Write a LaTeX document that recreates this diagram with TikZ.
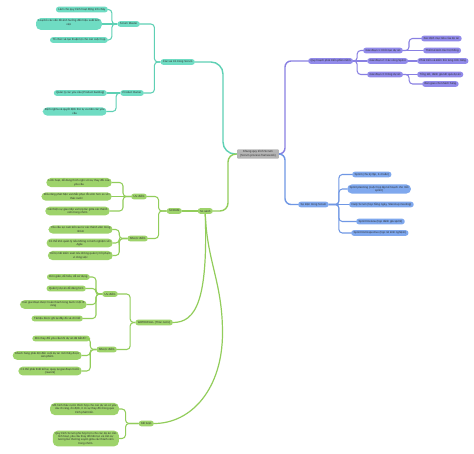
\documentclass[tikz,border=0pt]{standalone}
\usepackage{fontspec}
\setmainfont{Liberation Sans}
\usetikzlibrary{calc}
\definecolor{tealN}{HTML}{6FDCC3}
\definecolor{tealL}{HTML}{5ED0B4}
\definecolor{purN}{HTML}{918AEA}
\definecolor{purL}{HTML}{8980E2}
\definecolor{bluN}{HTML}{7FA8EE}
\definecolor{bluL}{HTML}{6F97E4}
\definecolor{grnN}{HTML}{9ED36B}
\definecolor{grnL}{HTML}{92CD5B}
\definecolor{txt}{HTML}{2E2E2E}
\definecolor{ctrN}{HTML}{B4B4B4}
\tikzset{
  mm/.style={draw=none, rounded corners=2.6pt, inner xsep=2.4pt, inner ysep=0.9pt,
    minimum height=5.6pt, font=\fontsize{2.8}{3.4}\selectfont, text=txt, align=center},
  ml/.style={rounded corners=4.5pt, inner ysep=1.3pt},
  tn/.style={mm, fill=tealN}, pn/.style={mm, fill=purN},
  bn/.style={mm, fill=bluN}, gn/.style={mm, fill=grnN},
  lnk/.style={line width=1.05pt, rounded corners=3.5pt},
  mainlnk/.style={line width=1.4pt},
}
\begin{document}
\begin{tikzpicture}[x=1pt,y=-1pt]
\fill[white] (0,0) rectangle (474,454);
\useasboundingbox (0,0) rectangle (474,454);

% centre
\node[mm, fill=ctrN, rounded corners=0.8pt, inner xsep=3pt, inner ysep=1.4pt,
  font=\fontsize{2.9}{3.6}\selectfont] (ctr) at (258,154)
  {Khung quy trình Scrum\\(Scrum process framework)};

% ---------- teal ----------
\node[tn, anchor=east] (cac) at (195,62) {Các vai trò trong Scrum};
\node[tn, anchor=east] (sm) at (140,24) {Scrum Master};
\node[tn, anchor=east] (po) at (144,93) {Product Owner};
\node[tn, anchor=east] (sm1) at (108,9.5) {Làm cho quy trình hoạt động trôi chảy};
\node[tn, ml, anchor=east] (sm2) at (102,24) {Loại bỏ các vấn đề ảnh hưởng đến hiệu suất làm\\việc\\};
\node[tn, anchor=east] (sm3) at (108,40) {Tổ chức và tạo thuận lợi cho các cuộc họp};
\node[tn, anchor=east] (po1) at (107,93) {Quản lý các yêu cầu (Product backlog)};
\node[tn, ml, anchor=east] (po2) at (107,111.5) {Định nghĩa và quyết định thứ tự ưu tiên các yêu\\cầu};

% ---------- purple ----------
\node[pn, anchor=west] (qh) at (308,61) {Quy hoạch phát triển phần mềm};
\node[pn, anchor=west] (g1) at (363,50.5) {Giai đoạn 1: Khởi tạo dự án};
\node[pn, anchor=west] (g2) at (367,61) {Giai đoạn 2: Các vòng Sprint};
\node[pn, anchor=west] (g3) at (367,74.5) {Giai đoạn 3: Đóng dự án};
\node[pn, anchor=west] (x1) at (421,38.5) {Xác định mục tiêu của dự án};
\node[pn, anchor=west] (x2) at (423,50.5) {Thiết kế kiến trúc hệ thống};
\node[pn, anchor=west] (p1) at (417,61) {Phát triển và kiểm thử từng tính năng};
\node[pn, anchor=west] (t1) at (417,74.5) {Tổng kết, đánh giá kết quả dự án};
\node[pn, anchor=west] (t2) at (422,84) {Bàn giao cho khách hàng};

% ---------- blue ----------
\node[bn, anchor=west] (sk) at (298,204.5) {Sự kiện trong Scrum};
\node[bn, anchor=west] (e1) at (352,174.5) {Sprint (chu kỳ lặp, 2-4 tuần)};
\node[bn, ml, anchor=west] (e2) at (347,189) {Sprint planning (cuộc họp lập kế hoạch cho mỗi\\sprint)};
\node[bn, anchor=west] (e3) at (349,204.5) {Daily Scrum (họp hằng ngày, Stand-up meeting)};
\node[bn, anchor=west] (e4) at (356,221.5) {Sprint Review (họp đánh giá sprint)};
\node[bn, anchor=west] (e5) at (351,233) {Sprint Retrospective (họp rút kinh nghiệm)};

% ---------- green ----------
\node[gn, anchor=east] (ss) at (213,211) {So sánh};
\node[gn, anchor=east] (scrum) at (182,211) {SCRUM};
\node[gn, anchor=east] (su) at (147,196.5) {Ưu điểm};
\node[gn, anchor=east] (sn) at (148,238.5) {Nhược điểm};
\node[gn, ml, anchor=east] (su1) at (112,182.5) {Linh hoạt, dễ dàng thích nghi với sự thay đổi của\\yêu cầu};
\node[gn, ml, anchor=east] (su2) at (112,196.5) {Khả năng phát hiện và khắc phục lỗi sớm hơn so với\\thác nước};
\node[gn, ml, anchor=east] (su3) at (110,211) {Cải thiện sự giao tiếp và hợp tác giữa các thành\\viên trong nhóm};
\node[gn, ml, anchor=east] (sn1) at (113,229.5) {Yêu cầu sự cam kết cao từ các thành viên trong\\nhóm};
\node[gn, ml, anchor=east] (sn2) at (113,243) {Có thể khó quản lý nếu không có kinh nghiệm với\\Agile};
\node[gn, ml, anchor=east] (sn3) at (113,255.5) {Dễ bị mất kiểm soát nếu không quản lý tốt phạm\\vi công việc};

\node[gn, anchor=east] (wf) at (173,322.5) {WATERFALL (Thác nước)};
\node[gn, anchor=east] (wu) at (118,294) {Ưu điểm};
\node[gn, anchor=east] (wn) at (117,349.5) {Nhược điểm};
\node[gn, anchor=east] (wu1) at (90,277) {Đơn giản, dễ hiểu, dễ sử dụng};
\node[gn, anchor=east] (wu2) at (86,288.5) {Quản lý dự án dễ dàng hơn};
\node[gn, ml, anchor=east] (wu3) at (87,304.5) {Các giai đoạn được hoàn thành từng bước một rõ\\ràng};
\node[gn, anchor=east] (wu4) at (83,318.5) {Tài liệu được ghi lại đầy đủ và chi tiết};
\node[gn, anchor=east] (wn1) at (90,338.5) {Khó thay đổi yêu cầu khi dự án đã bắt đầu};
\node[gn, ml, anchor=east] (wn2) at (82,355.5) {Khách hàng phải đợi đến cuối dự án mới thấy được\\sản phẩm};
\node[gn, ml, anchor=east] (wn3) at (82,371) {Có thể phải thiết kế lại, quay lại giai đoạn trước\\(rework)};

\node[gn, anchor=east] (kl) at (154,423.5) {Kết luận};
\node[gn, ml, anchor=east] (kl1) at (119,409) {Mô hình thác nước thích hợp cho các dự án có yêu\\cầu rõ ràng, ổn định, ít có sự thay đổi trong quá\\trình phát triển.};
\node[gn, ml, anchor=east] (kl2) at (119,438.5) {Quy trình Scrum phù hợp hơn cho các dự án cần\\linh hoạt, yêu cầu thay đổi liên tục và cần sự\\tương tác thường xuyên giữa các thành viên\\trong nhóm.};

% ---------- main branches ----------
\draw[tealL, mainlnk, rounded corners=12pt] (cac.east) -| ($(ctr.west)+(-14,0)$) -- (ctr.west);
\draw[grnL, mainlnk, rounded corners=8pt] (ss.east) -| ($(ctr.west)+(-9,0)$) -- (ctr.west);
\draw[purL, mainlnk, rounded corners=6pt] (ctr.east) -- ++(6,0) |- (qh.west);
\draw[bluL, mainlnk, rounded corners=6pt] (ctr.east) -- ++(6,0) |- (sk.west);

% ---------- teal links ----------
\draw[tealL, lnk] (sm.east) -| ($(cac.west)+(-6,0)$) -- (cac.west);
\draw[tealL, lnk] (po.east) -| ($(cac.west)+(-6,0)$) -- (cac.west);
\draw[tealL, lnk] (sm1.east) -| ($(sm.west)+(-5.5,0)$) -- (sm.west);
\draw[tealL, lnk] (sm2.east) -- (sm.west);
\draw[tealL, lnk] (sm3.east) -| ($(sm.west)+(-5.5,0)$) -- (sm.west);
\draw[tealL, lnk] (po1.east) -- (po.west);
\draw[tealL, lnk] (po2.east) -| ($(po.west)+(-4,0)$) -- (po.west);

% ---------- purple links ----------
\draw[purL, lnk] (qh.east) -- ++(4,0) |- (g1.west);
\draw[purL, lnk] (qh.east) -- (g2.west);
\draw[purL, lnk] (qh.east) -- ++(4,0) |- (g3.west);
\draw[purL, lnk] (g1.east) -- ++(6,0) |- (x1.west);
\draw[purL, lnk] (g1.east) -- (x2.west);
\draw[purL, lnk] (g2.east) -- (p1.west);
\draw[purL, lnk] (g3.east) -- (t1.west);
\draw[purL, lnk] (g3.east) -- ++(6,0) |- (t2.west);

% ---------- blue links ----------
\draw[bluL, lnk] (sk.east) -- ++(10,0) |- (e1.west);
\draw[bluL, lnk] (sk.east) -- ++(10,0) |- (e2.west);
\draw[bluL, lnk] (sk.east) -- (e3.west);
\draw[bluL, lnk] (sk.east) -- ++(10,0) |- (e4.west);
\draw[bluL, lnk] (sk.east) -- ++(10,0) |- (e5.west);

% ---------- green links ----------
\draw[grnL, lnk] (scrum.east) -- (ss.west);
\draw[grnL, line width=1.2pt] (ss.south) .. controls (208,300) and (196,322.5) .. (wf.east);
\draw[grnL, line width=1.2pt] (ss.south) .. controls (207,262) and (222.5,282) .. (222.5,333)
   .. controls (222.5,388) and (192,423.5) .. (kl.east);
\draw[grnL, lnk] (su.east) -| ($(scrum.west)+(-8,0)$) -- (scrum.west);
\draw[grnL, lnk] (sn.east) -| ($(scrum.west)+(-8,0)$) -- (scrum.west);
\foreach \c in {su1,su3} \draw[grnL, lnk] (\c.east) -| ($(su.west)+(-8,0)$) -- (su.west);
\draw[grnL, lnk] (su2.east) -- (su.west);
\foreach \c in {sn1,sn2,sn3} \draw[grnL, lnk] (\c.east) -| ($(sn.west)+(-8,0)$) -- (sn.west);
\draw[grnL, lnk] (wu.east) -| ($(wf.west)+(-5,0)$) -- (wf.west);
\draw[grnL, lnk] (wn.east) -| ($(wf.west)+(-5,0)$) -- (wf.west);
\foreach \c in {wu1,wu2,wu3,wu4} \draw[grnL, lnk] (\c.east) -| ($(wu.west)+(-6,0)$) -- (wu.west);
\foreach \c in {wn1,wn2,wn3} \draw[grnL, lnk] (\c.east) -| ($(wn.west)+(-6,0)$) -- (wn.west);
\foreach \c in {kl1,kl2} \draw[grnL, lnk] (\c.east) -| ($(kl.west)+(-13,0)$) -- (kl.west);
\end{tikzpicture}
\end{document}
